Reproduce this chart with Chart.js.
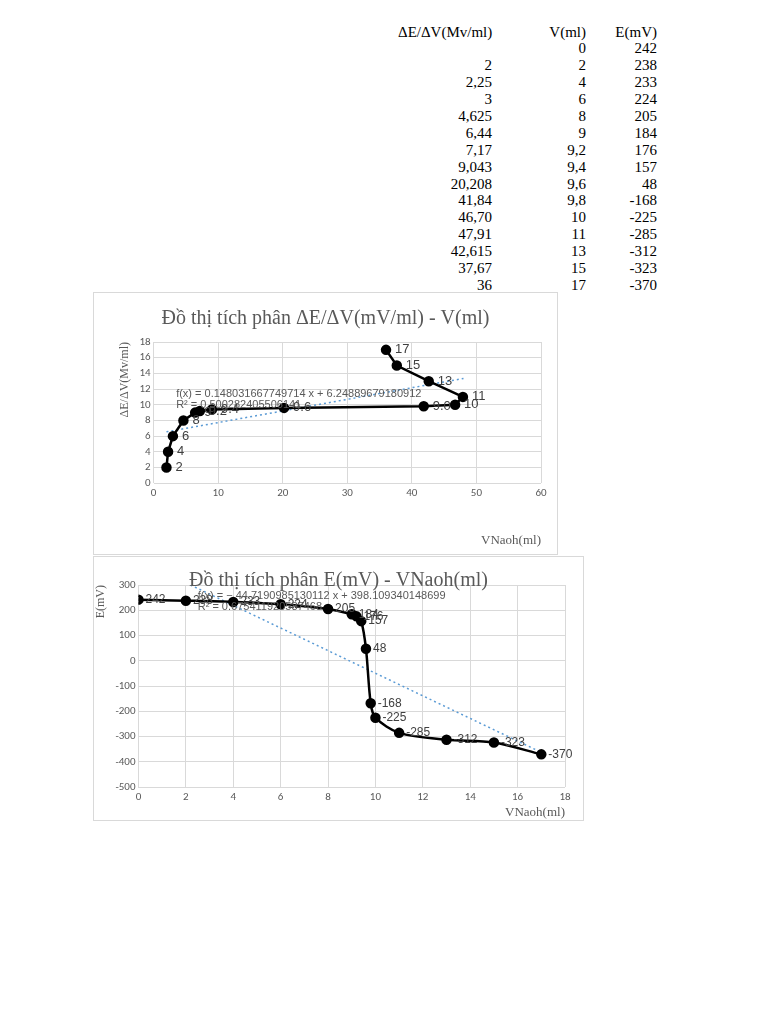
<!DOCTYPE html>
<html><head><meta charset="utf-8">
<script src="https://cdn.jsdelivr.net/npm/chart.js@4.4.0/dist/chart.umd.min.js"></script>
<style>
body{margin:0;background:#fff;font-family:"Liberation Serif",serif;}
#tbl{position:absolute;left:362px;top:25px;font-size:15px;color:#000;border-collapse:collapse}
#tbl td{padding:0;height:16.93px;line-height:16.93px;text-align:right}
#tbl tr:first-child td{height:15px;line-height:15px}
.box{position:absolute;border:1px solid #d9d9d9;background:#fff}
</style></head><body>
<table id="tbl"></table>
<div class="box" style="left:93px;top:292px;width:463px;height:261px"><canvas id="c1"></canvas></div>
<div class="box" style="left:93px;top:556px;width:489px;height:263px"><canvas id="c2"></canvas></div>
<script>
const dEdV = [null, 2, 2.25, 3, 4.625, 6.44, 7.17, 9.043, 20.208, 41.84, 46.70, 47.91, 42.615, 37.67, 36];
const dEdVText = ['', '2', '2,25', '3', '4,625', '6,44', '7,17', '9,043', '20,208', '41,84', '46,70', '47,91', '42,615', '37,67', '36'];
const volume = [0, 2, 4, 6, 8, 9, 9.2, 9.4, 9.6, 9.8, 10, 11, 13, 15, 17];
const volumeText = ['0', '2', '4', '6', '8', '9', '9,2', '9,4', '9,6', '9,8', '10', '11', '13', '15', '17'];
const potential = [242, 238, 233, 224, 205, 184, 176, 157, 48, -168, -225, -285, -312, -323, -370];
const labels1 = ['2', '4', '6', '8', '9', '9.2', '9.4', '9.6', '9.0', '10', '11', '13', '15', '17'];
const trend1 = {a: 0.148031667749714, b: 6.24889679180912, from: 2, to: 48};
const trend2 = {a: -44.7190985130112, b: 398.109340148699, from: 2, to: 17};

// table
const tbl = document.getElementById('tbl');
let html = '<tr><td style="text-align:left;width:100px;padding-left:36px">ΔE/ΔV(Mv/ml)</td><td style="width:88px">V(ml)</td><td style="width:71px">E(mV)</td></tr>';
volume.forEach((v, i) => {
  html += '<tr><td style="padding-right:6px">' + dEdVText[i] + '</td><td>' + volumeText[i] + '</td><td>' + potential[i] + '</td></tr>';
});
tbl.innerHTML = html;

Chart.defaults.animation = false;
Chart.defaults.font.family = 'Calibri, Carlito, "Liberation Sans", sans-serif';
Chart.defaults.color = '#595959';

const pointLabels = {
  id: 'pointLabels',
  afterDatasetsDraw(chart, args, opts) {
    const ctx = chart.ctx;
    const meta = chart.getDatasetMeta(0);
    ctx.save();
    ctx.font = '20px "Liberation Serif", serif';
    ctx.fillStyle = '#595959';
    ctx.textAlign = 'center';
    ctx.textBaseline = 'middle';
    ctx.fillText(opts.title, chart.width / 2, opts.titleY);
    ctx.textAlign = 'left';
    ctx.font = opts.labelSize + 'px "Liberation Sans", sans-serif';
    ctx.fillStyle = '#404040';
    meta.data.forEach((p, i) => ctx.fillText(opts.texts[i], p.x + opts.gap, p.y));
    ctx.font = '11px "Liberation Sans", sans-serif';
    ctx.fillStyle = '#595959';
    const ex = chart.scales.x.getPixelForValue(opts.eqAt[0]);
    const ey = chart.scales.y.getPixelForValue(opts.eqAt[1]);
    ctx.fillText(opts.eq[0], ex, ey);
    ctx.fillText(opts.eq[1], ex, ey + 11);
    ctx.restore();
  }
};

function makeChart(id, pts, trend, xs, ys, title, yTitle, texts, eq, eqAt, pad, titleY, xTitlePad, gap, labelSize) {
  return new Chart(document.getElementById(id), {
    type: 'scatter',
    data: {datasets: [
      {data: pts, showLine: true, borderColor: '#000', backgroundColor: '#000', borderWidth: 2.5,
       pointRadius: 4, tension: id === 'c2' ? 0.3 : 0},
      {data: [{x: trend.from, y: trend.a * trend.from + trend.b}, {x: trend.to, y: trend.a * trend.to + trend.b}],
       showLine: true, borderColor: '#5b9bd5', borderDash: [2, 3], borderWidth: 1.5, pointRadius: 0}
    ]},
    options: {
      responsive: true, maintainAspectRatio: false, layout: {padding: pad},
      plugins: {legend: {display: false}, tooltip: {enabled: false}, title: {display: false},
        pointLabels: {texts, eq, eqAt, title, titleY, gap, labelSize}},
      scales: {
        x: {min: xs[0], max: xs[1], ticks: {stepSize: xs[2], autoSkip: false, font: {size: 11}},
            grid: {color: '#d9d9d9', drawTicks: false}, border: {display: false},
            title: {display: true, text: 'VNaoh(ml)', align: 'end', color: '#595959', font: {family: '"Liberation Serif", serif', size: 13}, padding: {top: xTitlePad, bottom: 0}}},
        y: {min: ys[0], max: ys[1], ticks: {stepSize: ys[2], autoSkip: false, font: {size: 11}},
            grid: {color: '#d9d9d9', drawTicks: false}, border: {display: false},
            title: {display: true, text: yTitle, align: 'end', color: '#595959', font: {family: '"Liberation Serif", serif', size: 12}, padding: {top: 0, bottom: 4}}}
      }
    },
    plugins: [pointLabels]
  });
}

const pts1 = volume.slice(1).map((v, i) => ({x: dEdV[i + 1], y: v}));
makeChart('c1', pts1, trend1, [0, 60, 10], [0, 18, 2], 'Đồ thị tích phân ΔE/ΔV(mV/ml) - V(ml)', 'ΔE/ΔV(Mv/ml)',
  labels1, ['f(x) = 0.148031667749714 x + 6.24889679180912', 'R² = 0.500282405506141'], [3.5, 11.4],
  {top: 49, right: 16, left: 24, bottom: 6}, 26, 30, 9, 13);

const pts2 = volume.map((v, i) => ({x: v, y: potential[i]}));
makeChart('c2', pts2, trend2, [0, 18, 2], [-500, 300, 100], 'Đồ thị tích phân E(mV) - VNaoh(ml)', 'E(mV)',
  potential.map(String), ['f(x) = − 44.7190985130112 x + 398.109340148699', 'R² = 0.675411920587468'], [2.5, 255],
  {top: 28, right: 18, left: 0, bottom: 0}, 24, -2, 7, 12);
</script>
</body></html>
